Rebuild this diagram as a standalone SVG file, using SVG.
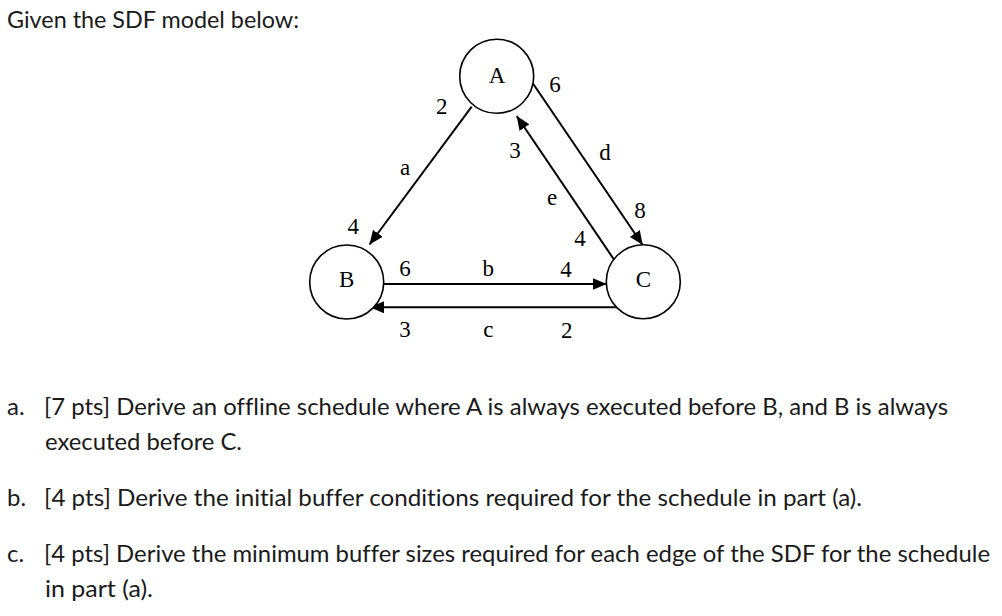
<svg xmlns="http://www.w3.org/2000/svg" width="1002" height="616" viewBox="0 0 1002 616">
<style>
  .q { font-family: "Lato", "Open Sans", "Liberation Sans", sans-serif; font-size: 24px; fill: #1a1a1a; font-variant-ligatures: none; }
  .lbl { font-family: "Liberation Serif", "Times New Roman", serif; font-size: 23px; fill: #000; text-anchor: middle; }
  .node { fill: #fff; stroke: #000; stroke-width: 1.6; }
  .edge { stroke: #000; stroke-width: 2; fill: none; }
</style>
<defs>
  <marker id="arr" markerUnits="userSpaceOnUse" viewBox="0 0 14 12" refX="14" refY="6" markerWidth="14" markerHeight="12" orient="auto">
    <path d="M0,0 L14,6 L0,12 z" fill="#000"/>
  </marker>
</defs>
<rect width="1002" height="616" fill="#fff"/>
<text class="q" x="7" y="27.5" textLength="292" lengthAdjust="spacingAndGlyphs">Given the SDF model below:</text>

<g id="connectors">
  <line id="edge-a" class="edge" x1="471.7" y1="106.7" x2="369.5" y2="244.5" marker-end="url(#arr)"/>
  <line id="edge-d" class="edge" x1="533.3" y1="84" x2="642.7" y2="245" marker-end="url(#arr)"/>
  <line id="edge-e" class="edge" x1="614.3" y1="260" x2="516.7" y2="116" marker-end="url(#arr)"/>
  <line id="edge-b" class="edge" x1="383.3" y1="284" x2="606.7" y2="284" marker-end="url(#arr)"/>
  <line id="edge-c" class="edge" x1="621.7" y1="307.3" x2="370" y2="307.3" marker-end="url(#arr)"/>
</g>

<g id="node-A">
  <circle class="node" cx="496.7" cy="76.3" r="37"/>
  <text class="lbl" x="497" y="82.5">A</text>
</g>
<g id="node-B">
  <circle class="node" cx="346.7" cy="282" r="37"/>
  <text class="lbl" x="346.7" y="287">B</text>
</g>
<g id="node-C">
  <circle class="node" cx="643.3" cy="281.7" r="37"/>
  <text class="lbl" x="643.3" y="286.5">C</text>
</g>

<g id="edge-labels">
  <text class="lbl" x="441.7" y="114">2</text>
  <text class="lbl" x="555" y="91.7">6</text>
  <text class="lbl" x="405" y="175">a</text>
  <text class="lbl" x="515" y="157.7">3</text>
  <text class="lbl" x="605" y="160">d</text>
  <text class="lbl" x="552" y="205">e</text>
  <text class="lbl" x="640" y="218.3">8</text>
  <text class="lbl" x="353.3" y="234">4</text>
  <text class="lbl" x="580" y="246">4</text>
  <text class="lbl" x="405" y="276">6</text>
  <text class="lbl" x="488.3" y="276">b</text>
  <text class="lbl" x="566" y="277.3">4</text>
  <text class="lbl" x="405" y="337.3">3</text>
  <text class="lbl" x="488.3" y="337">c</text>
  <text class="lbl" x="566.7" y="338.3">2</text>
</g>

<g id="questions">
  <text class="q" x="7" y="415">a.</text>
  <text class="q" x="44" y="415" textLength="904" lengthAdjust="spacingAndGlyphs">[7 pts] Derive an offline schedule where A is always executed before B, and B is always</text>
  <text class="q" x="45" y="450" textLength="197" lengthAdjust="spacingAndGlyphs">executed before C.</text>
  <text class="q" x="7" y="506">b.</text>
  <text class="q" x="44" y="506" textLength="818" lengthAdjust="spacingAndGlyphs">[4 pts] Derive the initial buffer conditions required for the schedule in part (a).</text>
  <text class="q" x="7" y="561.5">c.</text>
  <text class="q" x="44" y="561.5" textLength="946" lengthAdjust="spacingAndGlyphs">[4 pts] Derive the minimum buffer sizes required for each edge of the SDF for the schedule</text>
  <text class="q" x="45" y="596.5" textLength="108" lengthAdjust="spacingAndGlyphs">in part (a).</text>
</g>
</svg>
